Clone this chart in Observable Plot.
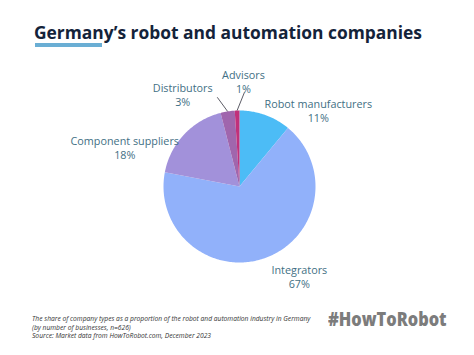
<!DOCTYPE html>
<html>
<head>
<meta charset="utf-8">
<script src="https://cdn.jsdelivr.net/npm/d3@7"></script>
<script src="https://cdn.jsdelivr.net/npm/@observablehq/plot@0.6"></script>
<style>
  html, body { margin: 0; padding: 0; background: #fff; }
  #wrap { position: relative; width: 474px; height: 355px; overflow: hidden; font-family: "Open Sans", sans-serif; }
  #title { position: absolute; left: 34px; top: 20px; font-size: 17.4px; font-weight: 700; color: #14233a; white-space: nowrap; }
  #bar { position: absolute; left: 35px; top: 43px; width: 67px; height: 4px; background: #6aaed4; }
  #chart { position: absolute; left: 0; top: 55px; }
  #note { position: absolute; left: 32px; top: 315px; font-size: 6.7px; font-style: italic; color: #333; line-height: 8.7px; white-space: nowrap; }
  #brand { position: absolute; left: 328px; top: 306px; font-size: 19px; font-weight: 800; color: #7c7c7c; white-space: nowrap; transform: scaleX(0.86); transform-origin: 0 0; }
</style>
</head>
<body>
<div id="wrap">
  <div id="title">Germany’s robot and automation companies</div>
  <div id="bar"></div>
  <div id="chart"></div>
  <div id="note">The share of company types as a proportion of the robot and automation industry in Germany<br>(by number of businesses, n=626)<br>Source: Market data from HowToRobot.com, December 2023</div>
  <div id="brand">#HowToRobot</div>
</div>
<script>
// ---- data ----
const categories = ["Robot manufacturers", "Integrators", "Component suppliers", "Distributors", "Advisors"];
const shares = [11, 67, 18, 3, 1];
const colors = ["#4cbcf6", "#91b1fa", "#a291da", "#a066ad", "#c1307a"];

// ---- label layout (polar: angle in degrees clockwise from top, radius in pie radii) ----
const labelAngle = [46.5, 146.6, 288.3, 328, 2.2];
const labelRadius = [1.43, 1.43, 1.59, 1.41, 1.37];
// leader lines (outer end, polar)
const leaderSlices = ["Distributors", "Advisors"];
const leaderAngle = [346, 3];
const leaderRadius = [1.21, 1.24];

// ---- layout ----
const W = 474, H = 245, cx = 239, cy = 131, R = 76;

const pie = d3.pie().sort(null).value(d => d.share);
const data = categories.map((c, i) => ({category: c, share: shares[i]}));
const arcs = pie(data);

const polys = [];
arcs.forEach(a => {
  polys.push({category: a.data.category, x: 0, y: 0});
  const n = Math.max(2, Math.ceil((a.endAngle - a.startAngle) / (Math.PI / 180)));
  for (let k = 0; k <= n; k++) {
    const t = a.startAngle + (a.endAngle - a.startAngle) * k / n;
    polys.push({category: a.data.category, x: Math.sin(t), y: Math.cos(t)});
  }
  polys.push({category: a.data.category, x: 0, y: 0});
});

const labels = arcs.map((a, i) => {
  const t = labelAngle[i] * Math.PI / 180;
  return {category: a.data.category, share: a.data.share, x: labelRadius[i] * Math.sin(t), y: labelRadius[i] * Math.cos(t)};
});

const leaders = leaderSlices.map((name, j) => {
  const a = arcs.find(d => d.data.category === name);
  const mid = (a.startAngle + a.endAngle) / 2;
  const t = leaderAngle[j] * Math.PI / 180;
  return {category: name, x1: 1.0 * Math.sin(mid), y1: 1.0 * Math.cos(mid), x2: leaderRadius[j] * Math.sin(t), y2: leaderRadius[j] * Math.cos(t)};
});

const chart = Plot.plot({
  width: W, height: H,
  margin: 0,
  x: {domain: [-cx / R, (W - cx) / R], range: [0, W], axis: null},
  y: {domain: [-(H - cy) / R, cy / R], range: [H, 0], axis: null},
  color: {domain: categories, range: colors},
  marks: [
    Plot.line(polys, {x: "x", y: "y", z: "category", fill: "category", stroke: "none", curve: "linear"}),
    Plot.link(leaders, {x1: "x1", y1: "y1", x2: "x2", y2: "y2", stroke: "#4a4a55", strokeWidth: 0.9}),
    Plot.text(labels, {x: "x", y: "y", text: d => d.category, dy: -7, fill: "#3f6f84", fontSize: 10.8, fontFamily: "Open Sans, sans-serif"}),
    Plot.text(labels, {x: "x", y: "y", text: d => d.share + "%", dy: 7, fill: "#3f6f84", fontSize: 10.8, fontFamily: "Open Sans, sans-serif"})
  ]
});
document.getElementById("chart").appendChild(chart);
</script>
</body>
</html>
